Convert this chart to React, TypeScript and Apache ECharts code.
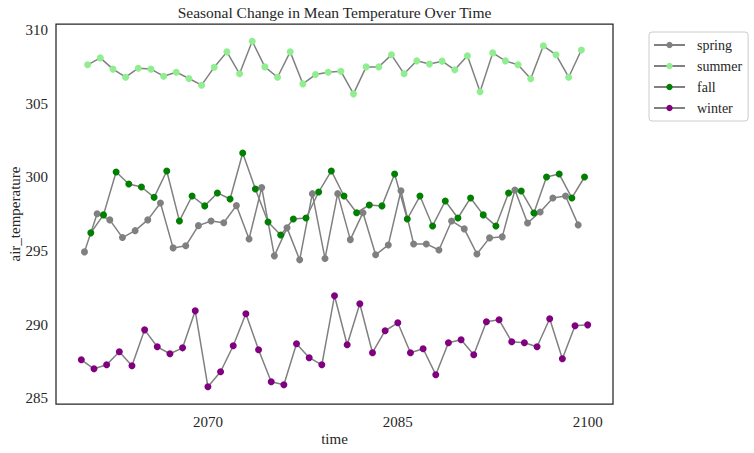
import React, { useEffect, useRef } from "react";
import * as echarts from "echarts";

const seasons = ["spring", "summer", "fall", "winter"];
const startYear = 2060;
const seasonOffset = [0.25, 0.5, 0.75, 0];
const markerColors = ["#808080", "#90ee90", "#008000", "#800080"];

const spring = [294.94, 297.53, 297.11, 295.91, 296.38, 297.11, 298.26, 295.21, 295.35, 296.72,
  297.04, 296.92, 298.08, 295.82, 299.30, 294.67, 296.57, 294.40, 298.89, 294.49,
  298.89, 295.77, 297.60, 294.74, 295.41, 299.09, 295.48, 295.48, 295.07, 297.04,
  296.50, 294.80, 295.89, 295.96, 299.14, 296.90, 297.65, 298.60, 298.73, 296.77];

const summer = [307.63, 308.10, 307.34, 306.79, 307.40, 307.34, 306.86, 307.13, 306.70, 306.25,
  307.47, 308.51, 307.02, 309.23, 307.49, 306.79, 308.51, 306.34, 306.97, 307.13,
  307.20, 305.66, 307.49, 307.49, 308.31, 307.02, 307.90, 307.68, 307.88, 307.29,
  308.24, 305.80, 308.44, 307.90, 307.63, 306.68, 308.92, 308.31, 306.79, 308.64];

const fall = [296.23, 297.45, 300.36, 299.55, 299.34, 298.64, 300.43, 297.04, 298.73, 298.06,
  298.94, 298.53, 301.65, 299.21, 296.97, 296.09, 297.17, 297.24, 299.00, 300.43,
  298.73, 297.60, 298.12, 298.06, 300.22, 297.17, 298.73, 296.70, 298.39, 297.24,
  298.60, 297.45, 296.70, 298.94, 299.07, 297.58, 300.02, 300.22, 298.60, 300.02];

const winter = [287.62, 287.01, 287.28, 288.16, 287.22, 289.65, 288.50, 288.03, 288.43, 290.94,
  285.79, 286.81, 288.57, 290.74, 288.30, 286.13, 285.93, 288.71, 287.76, 287.28,
  291.96, 288.64, 291.42, 288.10, 289.59, 290.13, 288.10, 288.37, 286.61, 288.77,
  288.98, 287.96, 290.20, 290.33, 288.84, 288.77, 288.50, 290.40, 287.69, 289.93, 289.99];

const xTickLabels = [2070, 2085, 2100];
const yTickLabels = [285, 290, 295, 300, 305, 310];

const allValues = [spring, summer, fall, winter];

const FONT = "'Liberation Serif', 'DejaVu Serif', serif";
const TEXT = "#262626";

export default function App() {
  const ref = useRef<HTMLDivElement>(null);
  useEffect(() => {
    if (!ref.current) return;
    const chart = echarts.init(ref.current, null, { renderer: "svg" });
    const series = seasons.map((name, si) => ({
      name,
      type: "line",
      data: allValues[si].map((v, i) => [startYear + i + seasonOffset[si], v]),
      symbol: "circle",
      symbolSize: 7,
      showSymbol: true,
      lineStyle: { color: "#808080", width: 1.5 },
      itemStyle: { color: markerColors[si], borderWidth: 0 },
      emphasis: { disabled: true },
      z: 2 + si,
    }));
    chart.setOption({
      animation: false,
      backgroundColor: "#ffffff",
      textStyle: { fontFamily: FONT },
      title: {
        text: "Seasonal Change in Mean Temperature Over Time",
        left: 334.5,
        textAlign: "center",
        top: 4,
        padding: 0,
        textStyle: { fontFamily: FONT, fontSize: 15.5, fontWeight: "normal", color: TEXT },
      },
      legend: {
        orient: "vertical",
        left: 649,
        top: 32,
        data: seasons,
        itemWidth: 31,
        itemHeight: 8,
        itemGap: 7,
        padding: [6, 6, 6, 4],
        borderColor: "#cccccc",
        borderWidth: 1,
        borderRadius: 3,
        textStyle: { fontFamily: FONT, fontSize: 14, color: TEXT, padding: [0, 0, 0, 7] },
      },
      grid: {
        left: 56,
        right: 141,
        top: 24,
        bottom: 49,
        outerBoundsMode: "none",
        containLabel: false,
        show: true,
        borderColor: "#262626",
        borderWidth: 1.25,
        backgroundColor: "transparent",
      },
      xAxis: {
        type: "value",
        min: 2058,
        max: 2102,
        interval: 1,
        name: "time",
        nameLocation: "middle",
        nameGap: 27,
        nameMoveOverlap: false,
        nameTextStyle: { fontFamily: FONT, fontSize: 15, color: TEXT },
        axisLine: { show: false },
        axisTick: { show: false },
        splitLine: { show: false },
        axisLabel: {
          fontFamily: FONT,
          fontSize: 15,
          color: TEXT,
          margin: 10,
          formatter: (v: number) => (xTickLabels.indexOf(Math.round(v)) >= 0 && Math.abs(v - Math.round(v)) < 1e-6 ? String(Math.round(v)) : ""),
        },
      },
      yAxis: {
        type: "value",
        min: 284.62,
        max: 310.4,
        splitNumber: 5,
        name: "air_temperature",
        nameLocation: "middle",
        nameGap: 34,
        nameMoveOverlap: false,
        nameTextStyle: { fontFamily: FONT, fontSize: 15, color: TEXT },
        axisLine: { show: false },
        axisTick: { show: false },
        splitLine: { show: false },
        axisLabel: {
          fontFamily: FONT,
          fontSize: 15,
          color: TEXT,
          margin: 8,
          showMinLabel: false,
          showMaxLabel: false,
          formatter: (v: number) => {
            const r = Math.round(v);
            return Math.abs(v - r) < 1e-6 && yTickLabels.indexOf(r) >= 0 ? String(r) : "";
          },
        },
      },
      series,
    });
    return () => chart.dispose();
  }, []);
  return (
    <div
      ref={ref}
      style={{ position: "fixed", left: 0, top: 0, width: 754, height: 453 }}
    />
  );
}
